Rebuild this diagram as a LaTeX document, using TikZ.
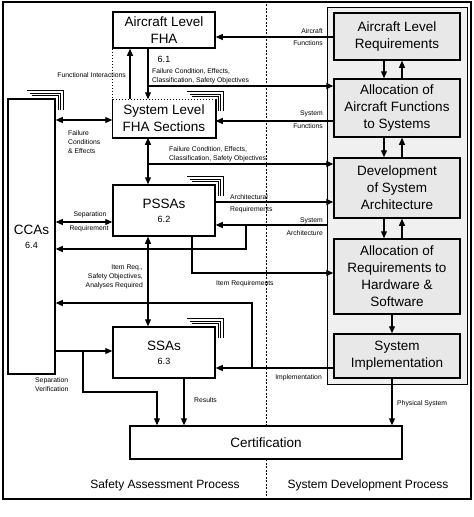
\documentclass[tikz,border=0pt]{standalone}
\usepackage{fontspec}
\setmainfont{Liberation Sans}
\usetikzlibrary{arrows.meta,calc,positioning}

\newcommand{\boxfont}{\fontsize{13.5}{17}\selectfont}
\newcommand{\notefont}{\fontsize{6.8}{9}\selectfont}
\newcommand{\numfont}{\fontsize{9}{11}\selectfont}

\begin{document}
\begin{tikzpicture}
      [x=1pt, y=-1pt,
        >={Triangle[length=7pt,width=6pt]},
        safety/.style={
          draw=black, line width=1.5pt,
          fill=white,
          minimum width=102pt,
          align=center,
          inner sep=0pt,
          font=\boxfont},
        devel/.style={
          draw=black, line width=1.5pt,
          fill=gray!18,
          minimum width=126pt,
          align=center,
          inner sep=0pt,
          font=\boxfont},
        note/.style={inner sep=0pt, font=\notefont, align=left},
        line/.style={draw, line width=1.1pt},
        stack/.style={line width=0.9pt},]
      \useasboundingbox (0,0) rectangle (474,517);
      % frame and divider
      \draw[line width=2.5pt] (3,2) rectangle (471,499);
      \draw[dash pattern=on 2pt off 1.5pt, line width=0.6pt] (266,4) -- (266,497);
      \node[draw, line width=0.8pt, fill=gray!12, minimum width=140pt,
        minimum height=377pt, inner sep=0pt] (panel) at (397,195.5) {};

      % development side
      \node[devel, minimum height=47pt] (alr) at (397,36.5) {Aircraft Level\\Requirements};
      \node[devel, minimum height=58pt] (aaf) at (397,108) {Allocation of\\Aircraft Functions\\to Systems};
      \node[devel, minimum height=60pt] (dsa) at (397,188) {Development\\of System\\Architecture};
      \node[devel, minimum height=75pt] (arh) at (397,276.5) {Allocation of\\Requirements to\\Hardware \&\\Software};
      \node[devel, minimum height=44pt] (sim) at (397,356) {System\\Implementation};

      % safety side
      \node[safety, minimum height=36pt] (afha) at (164,30) {Aircraft Level\\FHA};
      \node[safety, draw=none, minimum height=37pt] (sfha) at (164,118.5) {System Level\\FHA Sections};
      \draw[line width=1.5pt] (sfha.north east) -- (sfha.south east) -- (sfha.south west) -- (sfha.north west);
      \draw[dash pattern=on 1.5pt off 1.5pt, line width=0.7pt] (afha.south west) -- (sfha.north west) -- (sfha.north east);
      \node[safety, minimum height=51pt] (pssa) at (164,210.5) {PSSAs\\[-3pt]{\numfont 6.2}};
      \node[safety, minimum height=51pt] (ssa) at (164,352.5) {SSAs\\[-3pt]{\numfont 6.3}};
      \node[safety, minimum width=47pt, minimum height=275pt] (cca) at (31.5,236.5) {CCAs\\[-3pt]{\numfont 6.4}};
      \node[safety, minimum width=272pt, minimum height=33pt] (cert) at (266,442.5) {Certification};

      \foreach \n in {cca,sfha,pssa,ssa}
        \foreach \d in {2.5,5,7.5}
          \draw[stack] ($(\n.north east)+(-22-0.85*\d,-\d)$) -- ($(\n.north east)+(\d,-\d)$)
            -- ($(\n.north east)+(\d,12)$);

      % arrows inside the development process
      \foreach \a/\b in {alr/aaf,aaf/dsa,dsa/arh} {
        \draw[line, ->] (\a.south -| 384,0) -- (\b.north -| 384,0);
        \draw[line, ->] (\b.north -| 402,0) -- (\a.south -| 402,0);
      }
      \draw[line, ->] (arh.south -| 392,0) -- (sim.north -| 392,0);

      % connectors
      \coordinate (fc1) at (148,86);
      \coordinate (fc2) at (148,164);
      \coordinate (sa) at (246,225);
      \coordinate (ir) at (192,273);
      \coordinate (im) at (252,368);
      \coordinate (sv) at (83,351);
      \draw[line, ->] (alr.west |- 0,37) -- (afha.east |- 0,37);
      \draw[line, ->] (sfha.north -| 130,0) -- (afha.south -| 130,0);
      \draw[line, ->] (afha.south -| 148,0) -- (sfha.north -| 148,0);
      \draw[line, ->] (fc1) -- (aaf.west |- fc1);
      \draw[line, ->] (aaf.west |- 0,121) -- (sfha.east |- 0,121);
      \draw[line, <->] (cca.east |- 0,120) -- (sfha.west |- 0,120);
      \draw[line, <->] (sfha.south -| 148,0) -- (pssa.north -| 148,0);
      \draw[line, ->] (fc2) -- (dsa.west |- fc2);
      \draw[line, ->] (pssa.east |- 0,202) -- (dsa.west |- 0,202);
      \draw[line, ->] (panel.west |- sa) -- (pssa.east |- sa);
      \draw[line, ->] (sa) -- (246,249) -- (cca.east |- 0,249);
      \draw[line, ->] (pssa.south -| ir) -- (ir) -- (arh.west |- ir);
      \draw[line, <->] (pssa.south -| 148,0) -- (ssa.north -| 148,0);
      \draw[line, <->] (cca.east |- 0,222) -- (pssa.west |- 0,222);
      \draw[line, ->] (sim.west |- im) -- (ssa.east |- im);
      \draw[line, ->] (im) -- (252,303) -- (cca.east |- 0,303);
      \draw[line, ->] (cca.east |- sv) -- (ssa.west |- sv);
      \draw[line, ->] (sv) -- (83,392) -- (157,392) -- (cert.north -| 157,0);
      \draw[line, ->] (ssa.south -| 184,0) -- (cert.north -| 184,0);
      \draw[line, ->] (sim.south -| 392,0) -- (cert.north -| 392,0);

      % labels
      \node[note, anchor=east] (l1) at (323,31) {Aircraft};
      \node[note, anchor=east] (l2) at (323,43.5) {Functions};
      \node[note, anchor=east] (l3) at (126,75) {Functional Interactions};
      \node[inner sep=0pt, font=\numfont] (n61) at (164,59) {6.1};
      \node[note, anchor=west] (l4) at (152,76) {Failure Condition, Effects,\\Classification, Safety Objectives};
      \node[note, anchor=east] (l5) at (323,113.5) {System};
      \node[note, anchor=east] (l6) at (323,126) {Functions};
      \node[note, anchor=west] (l7) at (68,142) {Failure\\Conditions\\\& Effects};
      \node[note, anchor=west] (l8) at (169,154.5) {Failure Condition, Effects,\\Classification, Safety Objectives};
      \node[note, anchor=west] (l9) at (230,197.5) {Architectural};
      \node[note, anchor=west] (l10) at (230,209.5) {Requirements};
      \node[note] (l11) at (90,214.5) {Separation};
      \node[note] (l12) at (89,229) {Requirement};
      \node[note, anchor=east] (l13) at (323,221) {System};
      \node[note, anchor=east] (l14) at (323,233) {Architecture};
      \node[note, anchor=east, align=right] (l15) at (143,276.5) {Item Req.,\\Safety Objectives,\\Analyses Required};
      \node[note, anchor=west] (l16) at (216,284) {Item Requirements};
      \node[note, anchor=east] (l17) at (322,378) {Implementation};
      \node[note, anchor=west] (l18) at (35,384.5) {Separation\\Verification};
      \node[note, anchor=west] (l19) at (194,400) {Results};
      \node[note, anchor=west] (l20) at (397,404) {Physical System};
      \node[inner sep=0pt, font=\fontsize{12}{14}\selectfont] (sap) at (165,485) {Safety Assessment Process};
      \node[inner sep=0pt, font=\fontsize{12}{14}\selectfont] (sdp) at (368,485) {System Development Process};
    \end{tikzpicture}
\end{document}
